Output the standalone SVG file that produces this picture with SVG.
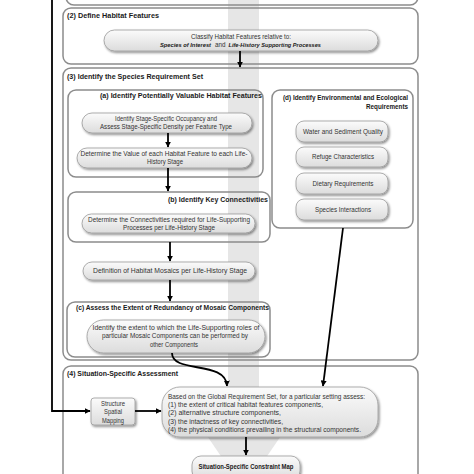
<svg xmlns="http://www.w3.org/2000/svg" width="474" height="474" viewBox="0 0 474 474">
<defs>
<style>
.frame{fill:none;stroke:#8c8c8c;stroke-width:1.5}
.pill{fill:url(#pg);stroke:#9a9a9a;stroke-width:0.8;filter:url(#sh)}
.t{font-family:"Liberation Sans",Arial,sans-serif;font-size:6.5px;fill:#333}
.h{font-family:"Liberation Sans",Arial,sans-serif;font-size:7px;font-weight:bold;fill:#1a1a1a}
.bi{font-family:"Liberation Sans",Arial,sans-serif;font-size:5.7px;font-weight:bold;font-style:italic;fill:#1a1a1a}
.c{text-anchor:middle}
.conn{fill:none;stroke:#000;stroke-width:1.8}
</style>
<linearGradient id="pg" x1="0" y1="0" x2="0" y2="1">
<stop offset="0" stop-color="#fbfbfb"/>
<stop offset="1" stop-color="#dcdcdc"/>
</linearGradient>
<filter id="sh" x="-10%" y="-20%" width="120%" height="150%">
<feDropShadow dx="1.2" dy="1.5" stdDeviation="0.9" flood-color="#000" flood-opacity="0.45"/>
</filter>
<marker id="ah" viewBox="0 0 10 10" refX="9" refY="5" markerWidth="6" markerHeight="6" markerUnits="userSpaceOnUse" orient="auto">
<path d="M0,0 L10,5 L0,10 z" fill="#000"/>
</marker>
</defs>
<rect width="474" height="474" fill="#fff"/>
<path id="band" d="M228,0 H259 V405 H302 L244,490 L186,405 H228 Z" fill="#e6e6e6"/>

<g id="frame1"><rect class="frame" x="66" y="-30" width="352" height="35" rx="8"/></g>

<g id="frame2">
<rect class="frame" x="63" y="8" width="355" height="56" rx="8"/>
<text class="h" x="67" y="18" textLength="92" lengthAdjust="spacingAndGlyphs">(2) Define Habitat Features</text>
</g>
<g id="classify">
<rect class="pill" x="104" y="30" width="274" height="21" rx="10.5"/>
<text class="t c" x="241" y="39" textLength="100" lengthAdjust="spacingAndGlyphs">Classify Habitat Features relative to:</text>
<text class="bi" x="160" y="47" textLength="51" lengthAdjust="spacingAndGlyphs">Species of Interest</text>
<text class="t" x="215" y="47" textLength="10.5" lengthAdjust="spacingAndGlyphs">and</text>
<text class="bi" x="228.5" y="47" textLength="92.5" lengthAdjust="spacingAndGlyphs">Life-History Supporting Processes</text>
</g>

<g id="frame3">
<rect class="frame" x="63" y="68" width="355" height="292" rx="8"/>
<text class="h" x="67" y="79" textLength="136" lengthAdjust="spacingAndGlyphs">(3) Identify the Species Requirement Set</text>
</g>

<g id="frameA">
<rect class="frame" x="68" y="90" width="195" height="87" rx="8"/>
<text class="h" x="262" y="98" text-anchor="end" textLength="162" lengthAdjust="spacingAndGlyphs">(a) Identify Potentially Valuable Habitat Features</text>
</g>
<g id="occupancy">
<rect class="pill" x="82" y="113" width="170" height="20" rx="10"/>
<text class="t c" x="166" y="121" textLength="102" lengthAdjust="spacingAndGlyphs">Identify Stage-Specific Occupancy and</text>
<text class="t c" x="166" y="129" textLength="132" lengthAdjust="spacingAndGlyphs">Assess Stage-Specific Density per Feature Type</text>
</g>
<g id="value">
<rect class="pill" x="77" y="148" width="175" height="20" rx="10"/>
<text class="t c" x="164" y="156" textLength="167" lengthAdjust="spacingAndGlyphs">Determine the Value of each Habitat Feature to each Life-</text>
<text class="t c" x="165" y="164" textLength="36" lengthAdjust="spacingAndGlyphs">History Stage</text>
</g>

<g id="frameB">
<rect class="frame" x="68" y="192" width="202" height="50" rx="8"/>
<text class="h" x="268" y="202" text-anchor="end" textLength="100" lengthAdjust="spacingAndGlyphs">(b) Identify Key Connectivities</text>
</g>
<g id="connect">
<rect class="pill" x="82" y="214" width="173" height="19" rx="9.5"/>
<text class="t c" x="169" y="222" textLength="162" lengthAdjust="spacingAndGlyphs">Determine the Connectivities required for Life-Supporting</text>
<text class="t c" x="169" y="230" textLength="92" lengthAdjust="spacingAndGlyphs">Processes  per Life-History Stage</text>
</g>

<g id="mosaics">
<rect class="pill" x="83" y="262" width="172" height="18" rx="9"/>
<text class="t c" x="170" y="273" textLength="154" lengthAdjust="spacingAndGlyphs">Definition of Habitat Mosaics per Life-History Stage</text>
</g>

<g id="frameC">
<rect class="frame" x="67" y="302" width="203" height="55" rx="8"/>
<text class="h" x="76" y="310" textLength="193" lengthAdjust="spacingAndGlyphs">(c) Assess the Extent of Redundancy of Mosaic Components</text>
</g>
<g id="redundancy">
<rect class="pill" x="87" y="320" width="178" height="33" rx="16.5"/>
<text class="t c" x="176" y="330" textLength="167" lengthAdjust="spacingAndGlyphs">Identify the extent to which the Life-Supporting roles of</text>
<text class="t c" x="175" y="338" textLength="146" lengthAdjust="spacingAndGlyphs">particular Mosaic Components can be performed by</text>
<text class="t c" x="174" y="347" textLength="48" lengthAdjust="spacingAndGlyphs">other Components</text>
</g>

<g id="frameD">
<rect class="frame" x="272" y="90" width="141" height="138" rx="8"/>
<text class="h" x="408" y="100" text-anchor="end" textLength="125" lengthAdjust="spacingAndGlyphs">(d) Identify Environmental and Ecological</text>
<text class="h" x="408" y="109" text-anchor="end" textLength="42" lengthAdjust="spacingAndGlyphs">Requirements</text>
</g>
<g id="water">
<rect class="pill" x="296" y="121" width="92" height="21" rx="8"/>
<text class="t c" x="343" y="134" textLength="80" lengthAdjust="spacingAndGlyphs">Water and Sediment Quality</text>
</g>
<g id="refuge">
<rect class="pill" x="296" y="147" width="92" height="20" rx="8"/>
<text class="t c" x="343" y="159" textLength="62" lengthAdjust="spacingAndGlyphs">Refuge Characteristics</text>
</g>
<g id="dietary">
<rect class="pill" x="296" y="173" width="92" height="21" rx="8"/>
<text class="t c" x="343" y="186" textLength="61" lengthAdjust="spacingAndGlyphs">Dietary Requirements</text>
</g>
<g id="interactions">
<rect class="pill" x="296" y="199" width="92" height="21" rx="8"/>
<text class="t c" x="343" y="212" textLength="56" lengthAdjust="spacingAndGlyphs">Species Interactions</text>
</g>

<g id="frame4">
<rect class="frame" x="63" y="366" width="355" height="130" rx="8"/>
<text class="h" x="67" y="376" textLength="111" lengthAdjust="spacingAndGlyphs">(4) Situation-Specific Assessment</text>
</g>
<g id="mapping">
<rect class="pill" x="91" y="398" width="44" height="27" rx="3"/>
<text class="t c" x="113" y="406" textLength="24" lengthAdjust="spacingAndGlyphs">Structure</text>
<text class="t c" x="113" y="414" textLength="18" lengthAdjust="spacingAndGlyphs">Spatial</text>
<text class="t c" x="113" y="423" textLength="22" lengthAdjust="spacingAndGlyphs">Mapping</text>
</g>
<g id="assess">
<rect class="pill" x="162" y="387" width="216" height="50" rx="18"/>
<text class="t" x="168" y="399" textLength="197" lengthAdjust="spacingAndGlyphs">Based on the Global Requirement Set, for a particular setting assess:</text>
<text class="t" x="168" y="407" textLength="155" lengthAdjust="spacingAndGlyphs">(1) the extent of critical habitat features components,</text>
<text class="t" x="168" y="415" textLength="113" lengthAdjust="spacingAndGlyphs">(2) alternative structure components,</text>
<text class="t" x="168" y="424" textLength="115" lengthAdjust="spacingAndGlyphs">(3) the intactness of key connectivities,</text>
<text class="t" x="168" y="432" textLength="193" lengthAdjust="spacingAndGlyphs">(4) the physical conditions prevailing in the structural components.</text>
</g>
<g id="constraint">
<rect class="pill" x="192" y="456" width="108" height="24" rx="9"/>
<text class="h c" x="246" y="469" textLength="95" lengthAdjust="spacingAndGlyphs" style="font-size:6.5px">Situation-Specific Constraint Map</text>
</g>

<g id="connectors">
<path class="conn" d="M240,51 V67" marker-end="url(#ah)"/>
<path class="conn" d="M168,133 V147" marker-end="url(#ah)"/>
<path class="conn" d="M168,168 V191" marker-end="url(#ah)"/>
<path class="conn" d="M170,242 V261" marker-end="url(#ah)"/>
<path class="conn" d="M170,280 V301" marker-end="url(#ah)"/>
<path class="conn" d="M172,353 C172,374 226,360 227,386" marker-end="url(#ah)"/>
<path class="conn" d="M343,228 L323,386" marker-end="url(#ah)"/>
<path class="conn" d="M52,0 V411 H90" marker-end="url(#ah)"/>
<path class="conn" d="M135,411 H161" stroke-width="2.6" marker-end="url(#ah)"/>
<path class="conn" d="M246,437 V455" marker-end="url(#ah)"/>
</g>
</svg>
